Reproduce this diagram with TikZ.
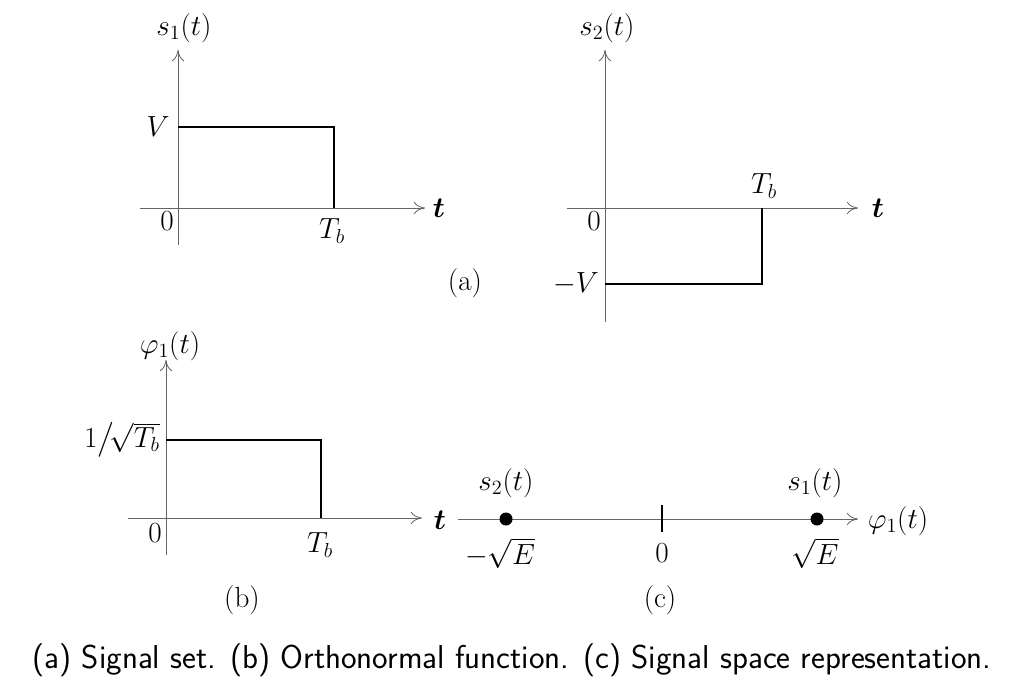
\documentclass[tikz,border=0pt]{standalone}
\usepackage{amsmath}
\usetikzlibrary{arrows.meta}
\begin{document}
\begin{tikzpicture}[x=0.025cm,y=-0.025cm,
  ax/.style={draw=black!60,line width=0.6pt,-{To[length=8pt,width=9pt]}},
  sig/.style={line width=2pt},
  lbl/.style={font=\huge},
  captext/.style={font=\sffamily\fontsize{23.5}{28}\selectfont}]
\useasboundingbox (0,0) rectangle (1024,691);
% (a) left
\coordinate (a1) at (178,245); \coordinate (a2) at (178,50);
\coordinate (a3) at (140,208); \coordinate (a4) at (425,208);
\draw[ax] (a1) -- (a2); \draw[ax] (a3) -- (a4);
\coordinate (p1) at (178,127); \coordinate (p2) at (334,127); \coordinate (p3) at (334,208);
\draw[sig] (p1) -- (p2) -- (p3);
\node[lbl] (sa) at (184,28) {$s_1(t)$};
\node[lbl] (va) at (158,127) {$V$};
\node[lbl] (za) at (167,221) {$0$};
\node[lbl] (ta) at (332,231) {$T_b$};
\node[lbl] (tta) at (439,208) {$\boldsymbol{t}$};
\node[lbl] (capa) at (465,283) {(a)};
% (a) right
\coordinate (b1) at (605,322); \coordinate (b2) at (605,50);
\coordinate (b3) at (567,208); \coordinate (b4) at (858,208);
\draw[ax] (b1) -- (b2); \draw[ax] (b3) -- (b4);
\coordinate (q1) at (605,284); \coordinate (q2) at (762,284); \coordinate (q3) at (762,208);
\draw[sig] (q1) -- (q2) -- (q3);
\node[lbl] (sb) at (607,28) {$s_2(t)$};
\node[lbl] (tb) at (764,186) {$T_b$};
\node[lbl] (zb) at (594,221) {$0$};
\node[lbl] (vb) at (576,284) {$-V$};
\node[lbl] (ttb) at (878,208) {$\boldsymbol{t}$};
% (b)
\coordinate (c1) at (166,555); \coordinate (c2) at (166,360);
\coordinate (c3) at (128,518); \coordinate (c4) at (422,518);
\draw[ax] (c1) -- (c2); \draw[ax] (c3) -- (c4);
\coordinate (r1) at (166,440); \coordinate (r2) at (321,440); \coordinate (r3) at (321,518);
\draw[sig] (r1) -- (r2) -- (r3);
\node[lbl] (sc) at (170,346) {$\varphi_1(t)$};
\node[lbl] (vc) at (122,440) {$1\big/\!\sqrt{T_b}$};
\node[lbl] (zc) at (155,533) {$0$};
\node[lbl] (tc) at (320,545) {$T_b$};
\node[lbl] (ttc) at (440,520) {$\boldsymbol{t}$};
\node[lbl] (capb) at (242,600) {(b)};
% (c)
\coordinate (d1) at (458,519); \coordinate (d2) at (858,519);
\draw[ax] (d1) -- (d2);
\coordinate (k1) at (662,505); \coordinate (k2) at (662,532);
\draw[line width=0.9pt] (k1) -- (k2);
\fill (506,519) circle (6.5);
\fill (817,519) circle (6.5);
\node[lbl] (s2c) at (506,483) {$s_2(t)$};
\node[lbl] (s1c) at (815,483) {$s_1(t)$};
\node[lbl] (me) at (500,553) {$-\sqrt{E}$};
\node[lbl] (z0) at (662,553) {$0$};
\node[lbl] (pe) at (815,553) {$\sqrt{E}$};
\node[lbl] (ph) at (898,521) {$\varphi_1(t)$};
\node[lbl] (capc) at (660,600) {(c)};
\node[captext] (caption) at (512,660) {(a) Signal set. (b) Orthonormal function. (c) Signal space representation.};
\end{tikzpicture}
\end{document}
